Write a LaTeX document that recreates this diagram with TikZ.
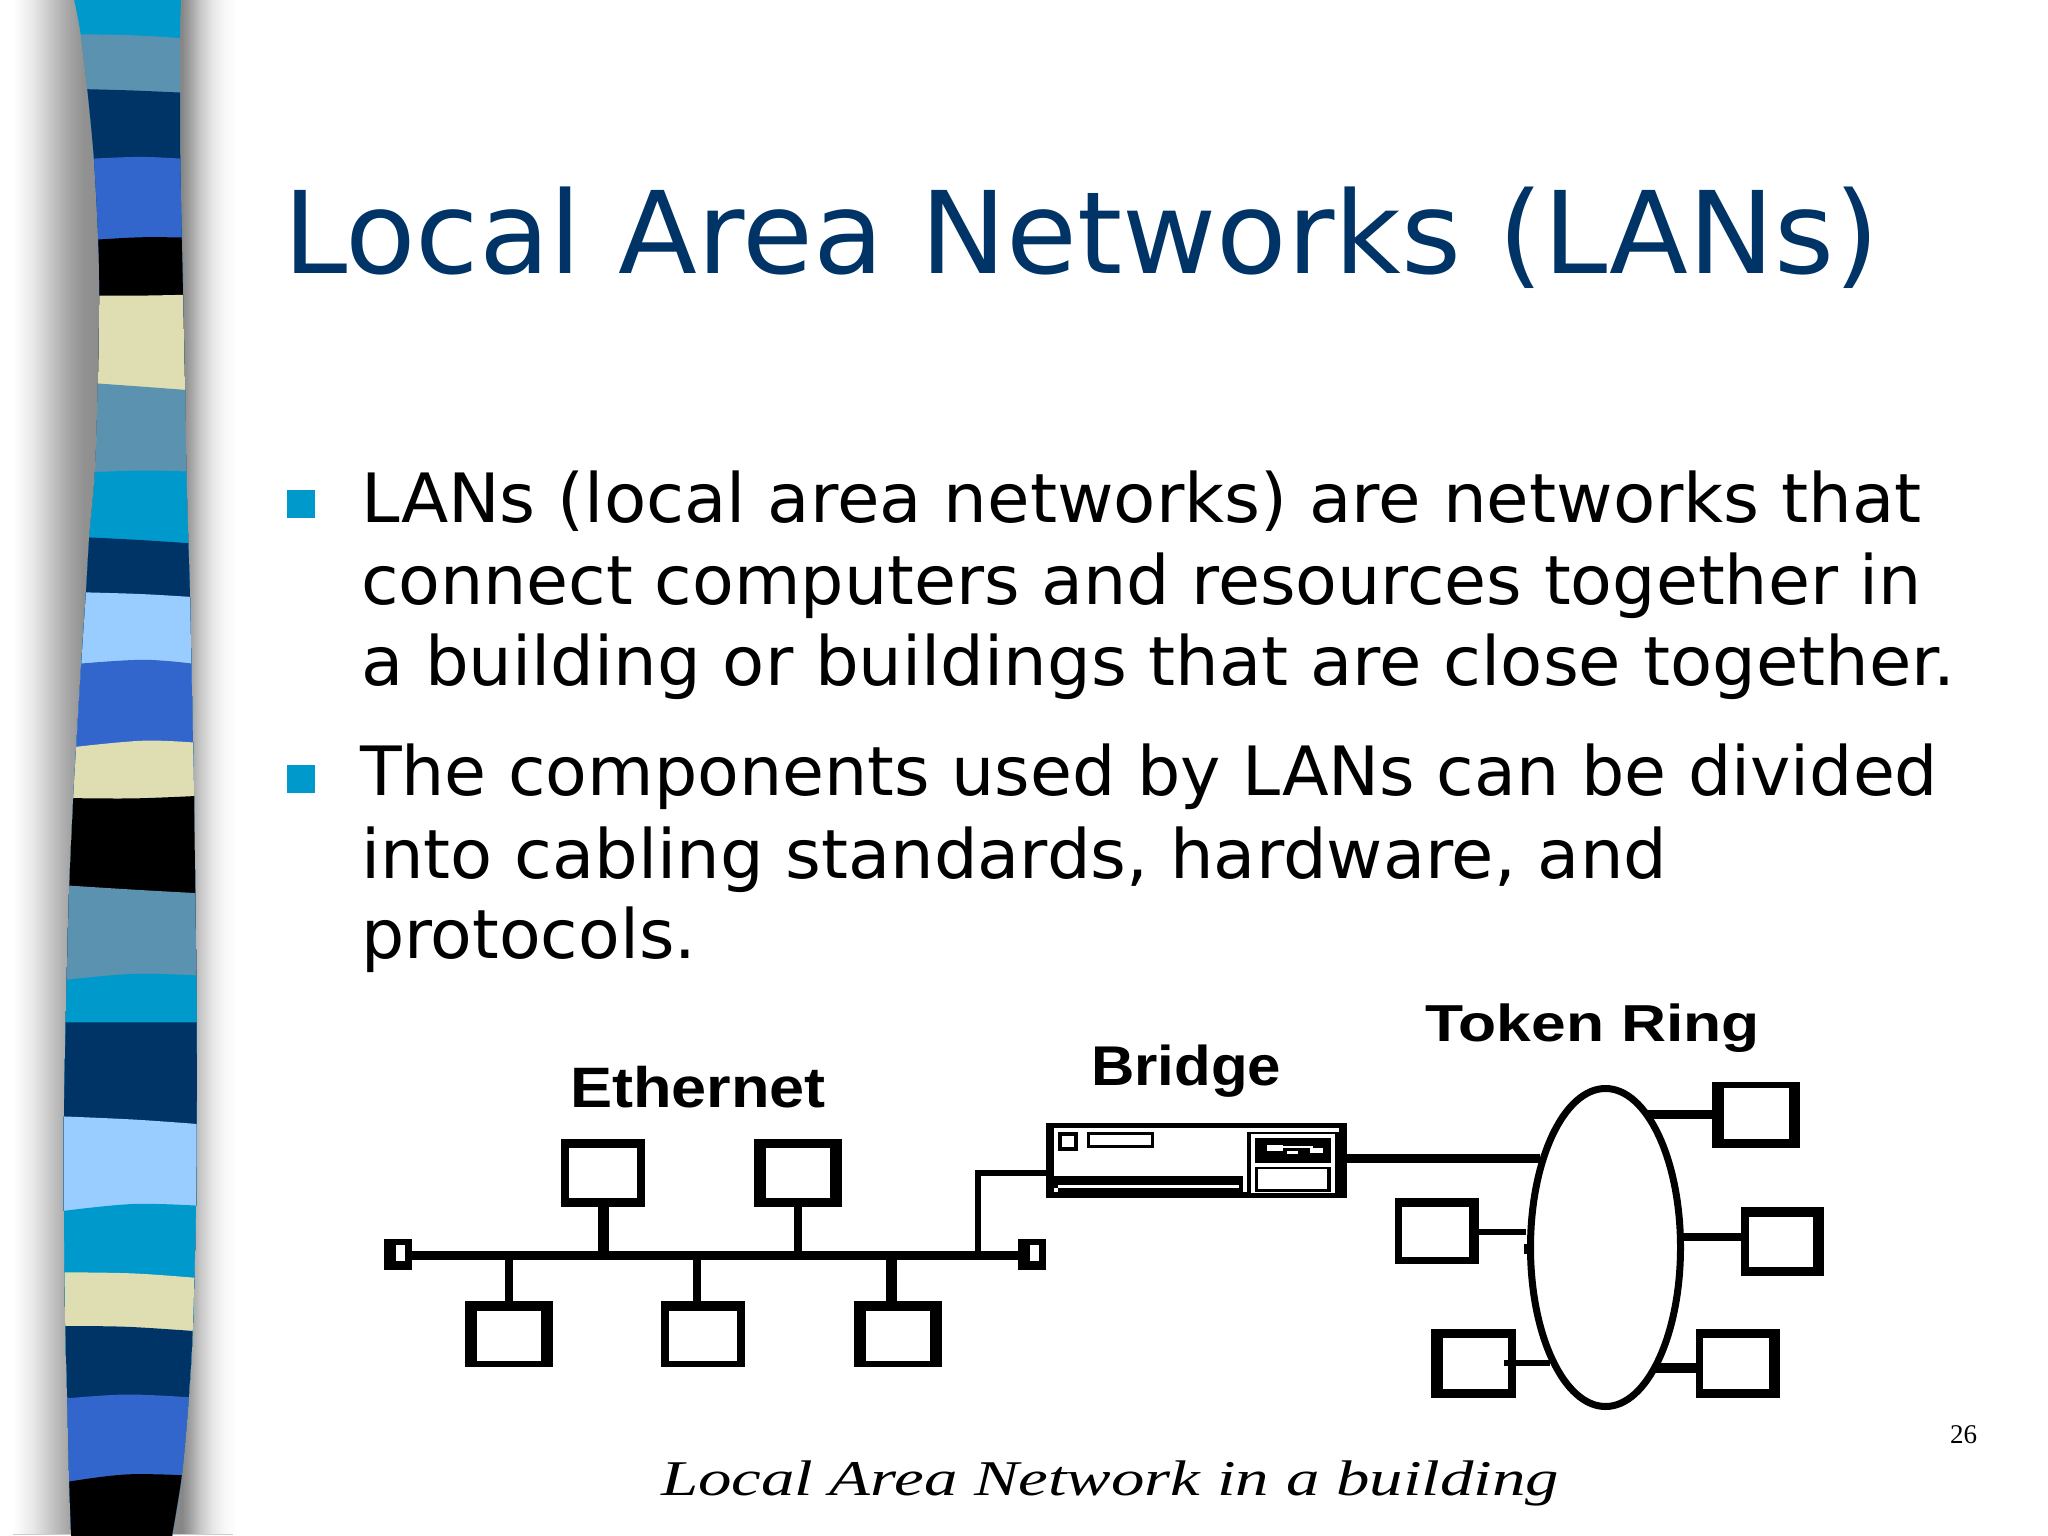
\documentclass[tikz,border=0pt]{standalone}
\usepackage{fontspec}
\usepackage{graphicx}
\usetikzlibrary{shapes.geometric}
\newfontfamily\slidefont{DejaVu Sans}
\newfontfamily\labelfont{Liberation Sans}[BoldFont={Liberation Sans Bold}]
\newfontfamily\captionfont{Liberation Serif}
\definecolor{cyanblue}{HTML}{0099CC}
\definecolor{steelblue}{HTML}{5A92AF}
\definecolor{navyblue}{HTML}{003366}
\definecolor{royalblue}{HTML}{3366CC}
\definecolor{beige}{HTML}{DEDEB2}
\definecolor{skyblue}{HTML}{99CCFF}
\definecolor{sa}{gray}{0.91}
\definecolor{sb}{gray}{0.78}
\definecolor{sc}{gray}{0.66}
\definecolor{sd}{gray}{0.57}
\definecolor{se}{gray}{0.55}
\definecolor{sf}{gray}{0.53}
\definecolor{sg}{gray}{0.63}
\definecolor{sh}{gray}{0.97}
\pgfdeclarehorizontalshading{leftshadow}{100bp}{color(0bp)=(white); color(25bp)=(white); color(36.5bp)=(sa); color(46.3bp)=(sb); color(56bp)=(sc); color(65.2bp)=(sd); color(75bp)=(se); color(100bp)=(se)}
\pgfdeclarehorizontalshading{rightshadow}{100bp}{color(0bp)=(sf); color(25bp)=(sf); color(32.8bp)=(sf); color(39bp)=(sg); color(46.9bp)=(sb); color(57bp)=(sa); color(66bp)=(sh); color(75bp)=(white); color(100bp)=(white)}
\tikzset{
  x=1pt,y=-1pt,
  plain/.style={inner sep=0pt,outer sep=0pt},
  slidetext/.style={plain,anchor=base west,font=\slidefont\fontsize{68}{68}\selectfont,text=black},
  labeltext/.style={plain,anchor=base west,text=black},
  wire/.style={draw=black,line width=#1},
  bullet/.style={fill=cyanblue},
}
% outer rectangle as a named node, inner white window on top
\newcommand\netbox[9]{%
  \pgfmathsetmacro\bw{#4-#2}\pgfmathsetmacro\bh{#5-#3}%
  \pgfmathsetmacro\bx{(#4+#2)/2}\pgfmathsetmacro\by{(#5+#3)/2}%
  \node[plain,fill=black,minimum width=\bw pt,minimum height=\bh pt] (#1) at (\bx,\by) {};
  \fill[white] (#6,#7) rectangle (#8,#9);
}
\newcommand\stripe[7]{\fill[#1] plot[smooth,tension=0.6] coordinates {(#2,#3) (#4,#5) (#6,#7)} -- (280,1540) -- (0,1540) -- cycle;}
\begin{document}
\begin{tikzpicture}
\useasboundingbox (0,0) rectangle (2048,1536);
\fill[white] (0,0) rectangle (2048,1536);
% sidebar shadow
\shade[shading=leftshadow] (13,0) rectangle (100,1534);
\shade[shading=rightshadow] (172,0) rectangle (236,1534);
\fill[gray!40] (13,1534) rectangle (233,1535);
% sidebar
\begin{scope}
\clip plot[smooth,tension=0.5] coordinates {(74,-1) (80.7,34.3) (87.3,89.2) (94,159.8) (98.3,240.7) (99.3,295.6) (98,383.3) (95,472) (89.3,537.7) (86,592.6) (81.3,663.7) (76.3,746.6) (73.3,798) (69.3,885.6) (66.7,979.8) (64,1116.5) (64,1211) (65.3,1326.3) (67.3,1398.4) (69.3,1481.7) (71.3,1537)}
 -- plot[smooth,tension=0.5] coordinates {(171.7,1537) (181.7,1475.4) (188.7,1397.5) (192.7,1330.7) (196,1205.7) (196.7,1123.9) (196.7,1022.4) (196.3,975.4) (195.3,893) (194,796) (193,742.6) (191.3,663.7) (190,597) (188.3,543.1) (186.3,471.6) (185,389.7) (183,294.6) (181.7,237.7) (180.3,159.3) (180,93.1) (180,39.2) (181,-1)} -- cycle;
\fill[cyanblue] (0,-2) rectangle (280,1540);
\stripe{steelblue}{70}{34.2}{133}{35.3}{200}{39.4}
\stripe{navyblue}{70}{88.8}{133}{90.5}{200}{93.5}
\stripe{royalblue}{70}{160}{140}{156.9}{200}{160}
\stripe{black}{70}{241.5}{140}{237.3}{200}{238}
\stripe{beige}{70}{295.6}{140}{295.6}{200}{294.4}
\stripe{steelblue}{70}{381.5}{140}{386.5}{200}{391}
\stripe{cyanblue}{70}{473}{143}{470.6}{200}{472}
\stripe{navyblue}{70}{536.5}{140}{540}{200}{544}
\stripe{skyblue}{70}{592}{140}{594}{200}{597.5}
\stripe{royalblue}{70}{664.5}{143}{659.8}{200}{664.5}
\stripe{beige}{70}{747.5}{143}{740.7}{200}{743}
\stripe{black}{65}{798}{133}{798.4}{200}{795.8}
\stripe{steelblue}{60}{885}{133}{889.6}{200}{893.3}
\stripe{cyanblue}{60}{980.5}{133}{973.9}{200}{975.6}
\stripe{navyblue}{60}{1022.4}{131}{1022.4}{200}{1022.4}
\stripe{skyblue}{60}{1116.3}{133}{1119.5}{200}{1124.2}
\stripe{cyanblue}{60}{1211.3}{133}{1204}{200}{1205.8}
\stripe{beige}{60}{1272.3}{133}{1273.4}{200}{1278.2}
\stripe{navyblue}{60}{1326}{127}{1326.8}{200}{1331.5}
\stripe{royalblue}{60}{1399}{127}{1394.5}{200}{1398}
\stripe{black}{60}{1483}{127}{1474.4}{200}{1476}
\end{scope}
% title and body
\node[plain,anchor=base west,font=\slidefont\fontsize{114}{114}\selectfont,text=navyblue] (title) at (283,273) {\resizebox{1597pt}{\height}{Local Area Networks (LANs)}};
\fill[bullet] (287,490) rectangle (315,518);
\fill[bullet] (287,765) rectangle (315,793);
\node[slidetext] (l1) at (361,522) {\resizebox{1561pt}{\height}{LANs (local area networks) are networks that}};
\node[slidetext] (l2) at (361,604) {\resizebox{1561pt}{\height}{connect computers and resources together in}};
\node[slidetext] (l3) at (361,685) {\resizebox{1594pt}{\height}{a building or buildings that are close together.}};
\node[slidetext] (l4) at (360,795) {\resizebox{1578pt}{\height}{The components used by LANs can be divided}};
\node[slidetext] (l5) at (361,878) {\resizebox{1306pt}{\height}{into cabling standards, hardware, and}};
\node[slidetext] (l6) at (361,958) {\resizebox{335pt}{\height}{protocols.}};
\node[plain,anchor=base west,font=\captionfont\fontsize{27}{27}\selectfont] (pagenum) at (1950,1443) {26};
% labels
\node[labeltext,font=\labelfont\bfseries\fontsize{57}{57}\selectfont] (ethernet) at (570,1107) {\resizebox{256pt}{\height}{Ethernet}};
\node[labeltext,font=\labelfont\bfseries\fontsize{56}{56}\selectfont] (bridgelabel) at (1091,1085) {\resizebox{190pt}{\height}{Bridge}};
\node[labeltext,font=\labelfont\bfseries\fontsize{52}{52}\selectfont] (tokenring) at (1425,1041) {\resizebox{335pt}{\height}{Token Ring}};
\node[labeltext,font=\captionfont\itshape\fontsize{50}{50}\selectfont] (caption) at (661,1495) {\resizebox{898pt}{\height}{Local Area Network in a building}};
% Ethernet bus
\node[plain,fill=black,minimum width=606pt,minimum height=9pt] (bus) at (715,1255.5) {};
\netbox{termL}{384}{1239}{412}{1270}{396}{1244.5}{405}{1261}
\netbox{termR}{1018}{1239}{1046}{1270}{1030}{1244.5}{1039}{1261}
\netbox{topA}{561}{1138.5}{645}{1207}{569}{1148}{637}{1198}
\netbox{topB}{753.5}{1138.5}{842}{1207}{765.5}{1148}{830}{1198}
\netbox{botA}{465}{1301}{553}{1367}{477}{1310.5}{541}{1360.5}
\netbox{botB}{661}{1301}{745}{1367}{669}{1310.5}{737}{1360.5}
\netbox{botC}{853.5}{1301}{942}{1367}{865.5}{1310.5}{930}{1360.5}
\draw[wire=11] (topA.south) -- (topA.south |- bus.center);
\draw[wire=8] (topB.south) -- (topB.south |- bus.center);
\draw[wire=7.5] (botA.north) -- (botA.north |- bus.center);
\draw[wire=8] ([xshift=-6pt]botB.north) -- ([xshift=-6pt]botB.north |- bus.center);
\draw[wire=11] ([xshift=-6.5pt]botC.north) -- ([xshift=-6.5pt]botC.north |- bus.center);
% Bridge
\node[plain,fill=black,minimum width=301pt,minimum height=75pt] (bridge) at (1196.5,1160.5) {};
\fill[white] (1054,1128.3) rectangle (1246.7,1176);
\fill[white] (1246.7,1128.3) rectangle (1339,1132.3);
\fill[white] (1250.7,1134) rectangle (1335,1193.3);
\fill[black] (1255,1138.3) rectangle (1331,1163.3);
\fill[black] (1255,1166.7) rectangle (1331,1192.3);
\fill[white] (1258.3,1169.3) rectangle (1327.3,1188.7);
\fill[white] (1242.7,1176) rectangle (1246.7,1192.3);
\fill[white] (1058.3,1185.3) rectangle (1239,1187.7);
\fill[white] (1054,1188.3) rectangle (1058,1191.7);
\fill[black] (1058,1132.3) rectangle (1078.3,1150.7);
\fill[white] (1061.7,1135.7) rectangle (1074.3,1147.3);
\fill[black] (1086.7,1132.3) rectangle (1154.3,1147.7);
\fill[white] (1090,1135) rectangle (1150.7,1145);
\fill[white] (1266.7,1145) rectangle (1283.3,1151);
\fill[white] (1283.3,1145.7) rectangle (1313.3,1148.3);
\fill[white] (1286.7,1150.7) rectangle (1298.3,1154);
\fill[white] (1310,1148.3) rectangle (1322.7,1153.3);
\coordinate (busjoin) at (978,1255.5);
\draw[wire=6.5] ([yshift=-12.5pt]bridge.west) -| (busjoin);
% Token ring
\node[plain,ellipse,draw=black,line width=7pt,minimum width=150pt,minimum height=318pt] (ring) at (1605.5,1247.5) {};
\netbox{trA}{1712}{1082}{1800}{1148}{1724}{1088}{1789}{1138.5}
\netbox{trB}{1740.5}{1207}{1824}{1276}{1749}{1216.5}{1813}{1266.5}
\netbox{trC}{1395}{1198}{1479}{1264}{1402}{1207}{1468.5}{1257}
\netbox{trD}{1431}{1329}{1515.5}{1398}{1443}{1338}{1508}{1388.5}
\netbox{trE}{1696}{1329}{1780}{1398}{1703}{1338}{1768.5}{1388.5}
\coordinate (jBridge) at (1540,1158.5);
\coordinate (jA) at (1647,1114.5);
\coordinate (jB) at (1682,1237);
\coordinate (jC) at (1526,1232);
\coordinate (jD) at (1550,1363);
\coordinate (jE) at (1656,1368);
\draw[wire=9] (bridge.east |- jBridge) -- (jBridge);
\draw[wire=9] (trA.west |- jA) -- (jA);
\draw[wire=8.5] (trB.west |- jB) -- (jB);
\draw[wire=6] (trC.east |- jC) -- (jC);
\draw[wire=6.5] ([xshift=-12pt]trD.east |- jD) -- (jD);
\draw[wire=9.5] (trE.west |- jE) -- (jE);
\fill[black] (1524,1244) rectangle (1534,1254);
\end{tikzpicture}
\end{document}
